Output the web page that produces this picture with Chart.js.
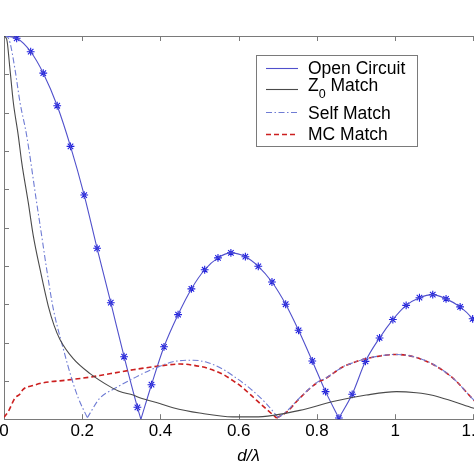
<!DOCTYPE html>
<html>
<head>
<meta charset="utf-8">
<script src="https://cdn.jsdelivr.net/npm/chart.js@4.4.1/dist/chart.umd.min.js"></script>
<style>
  html, body { margin: 0; padding: 0; background: #fff; overflow: hidden; width: 474px; height: 474px; }
  #wrap { position: absolute; left: -40px; top: 0; width: 600px; height: 474px; }
</style>
</head>
<body>
<div id="wrap"><canvas id="c" width="600" height="474"></canvas></div>
<script>
// ---------- data ----------
const xTicks = [0, 0.2, 0.4, 0.6, 0.8, 1.0, 1.2];
const xTickLabels = ['0', '0.2', '0.4', '0.6', '0.8', '1', '1.2'];
const yTicks = [0, 0.1, 0.2, 0.3, 0.4, 0.5, 0.6, 0.7, 0.8, 0.9, 1.0];

const seriesNames = ['Open Circuit', 'Z0 Match', 'Self Match', 'MC Match'];

// Open Circuit (sampled points, asterisk markers)
const openX = [0, 0.0324, 0.0682, 0.1004, 0.136, 0.170, 0.205, 0.238, 0.273, 0.307, 0.341, 0.350,
               0.377, 0.409, 0.445, 0.479, 0.513, 0.547, 0.580, 0.617, 0.650, 0.685, 0.720, 0.753, 0.788, 0.822, 0.856,
               0.890, 0.924, 0.960, 0.994, 1.028, 1.062, 1.096, 1.130, 1.166, 1.198, 1.232, 1.266];
const openY = [1.000, 0.994, 0.959, 0.903, 0.818, 0.712, 0.585, 0.446, 0.304, 0.163, 0.031, 0.000,
               0.090, 0.189, 0.273, 0.340, 0.390, 0.421, 0.434, 0.424, 0.399, 0.358, 0.300, 0.232, 0.152, 0.072, 0.003,
               0.065, 0.151, 0.212, 0.260, 0.297, 0.317, 0.325, 0.314, 0.293, 0.262, 0.212, 0.160];
const openCusps = [0.350, 0.856];
const openNoMarker = [0, 0.350];

// Z0 Match
const z0X = [0, 0.007, 0.0153, 0.0238, 0.0365, 0.0452, 0.0621, 0.0748, 0.092, 0.113, 0.128, 0.143, 0.177, 0.220, 0.271,
             0.296, 0.330, 0.347, 0.398, 0.432, 0.500, 0.585, 0.640, 0.688, 0.756, 0.841, 0.926, 1.003, 1.054, 1.098,
             1.149, 1.199, 1.250];
const z0Y = [1.000, 0.991, 0.913, 0.827, 0.740, 0.671, 0.565, 0.479, 0.392, 0.296, 0.245, 0.208, 0.158, 0.119, 0.085,
             0.072, 0.063, 0.056, 0.041, 0.030, 0.016, 0.006, 0.006, 0.010, 0.023, 0.046, 0.063, 0.072, 0.069, 0.062,
             0.046, 0.029, 0.014];

// Self Match
const selfX = [0, 0.009, 0.0153, 0.0281, 0.0409, 0.058, 0.0835, 0.0963, 0.109, 0.126, 0.1515, 0.173, 0.190, 0.213,
               0.245, 0.279, 0.330, 0.373, 0.398, 0.432, 0.484, 0.520, 0.560, 0.586, 0.628, 0.671, 0.701,
               0.724, 0.756, 0.800, 0.820, 0.867, 0.886, 0.926, 1.003, 1.047, 1.098, 1.149, 1.196, 1.230, 1.250];
const selfY = [1.000, 0.997, 0.983, 0.913, 0.827, 0.740, 0.565, 0.479, 0.392, 0.288, 0.184, 0.106, 0.055, 0.004,
               0.055, 0.078, 0.106, 0.128, 0.138, 0.150, 0.154, 0.148, 0.130, 0.113, 0.081, 0.040, 0.004,
               0.022, 0.056, 0.096, 0.106, 0.137, 0.145, 0.158, 0.169, 0.163, 0.143, 0.106, 0.055, 0.022, 0.004];
const selfCusps = [0.213, 0.701];

// MC Match
const mcX = [0, 0.011, 0.028, 0.041, 0.049, 0.075, 0.100, 0.160, 0.228, 0.245, 0.330, 0.398, 0.450, 0.500, 0.520,
             0.560, 0.586, 0.603, 0.628, 0.645, 0.671, 0.697,
             0.724, 0.756, 0.800, 0.820, 0.867, 0.886, 0.926, 1.003, 1.047, 1.098, 1.149, 1.196, 1.230, 1.250];
const mcY = [0.005, 0.020, 0.055, 0.066, 0.078, 0.088, 0.095, 0.102, 0.111, 0.114, 0.129, 0.139, 0.144, 0.138, 0.133,
             0.117, 0.100, 0.088, 0.066, 0.050, 0.026, 0.003,
             0.020, 0.055, 0.095, 0.105, 0.137, 0.145, 0.158, 0.169, 0.163, 0.142, 0.106, 0.055, 0.020, 0.003];
const mcCusps = [0.697];

// ---------- helpers ----------
function toPoints(xs, ys) { return xs.map((x, i) => ({ x: x, y: ys[i] })); }
function splitAtCusps(xs, ys, cusps) {
  const pts = toPoints(xs, ys);
  const parts = [];
  let cur = [];
  pts.forEach(p => {
    cur.push(p);
    if (cusps.indexOf(p.x) !== -1) { parts.push(cur); cur = [p]; }
  });
  if (cur.length > 1) parts.push(cur);
  return parts;
}

const COL_OPEN = '#5050cc';
const COL_MARK = '#2020e0';
const COL_Z0 = '#4a4a4a';
const COL_SELF = '#6f7cd4';
const COL_MC = '#cc1f1f';
const DASH_SELF = [6, 2.5, 1.5, 2.5];
const DASH_MC = [5, 3];

const datasets = [];
function lineSet(data, color, width, dash) {
  return { type: 'line', data: data, borderColor: color, borderWidth: width, borderDash: dash || [],
           pointRadius: 0, fill: false, cubicInterpolationMode: 'monotone' };
}
splitAtCusps(z0X, z0Y, []).forEach(d => datasets.push(lineSet(d, COL_Z0, 1.1)));
splitAtCusps(selfX, selfY, selfCusps).forEach(d => datasets.push(lineSet(d, COL_SELF, 1.1, DASH_SELF)));
splitAtCusps(mcX, mcY, mcCusps).forEach(d => datasets.push(lineSet(d, COL_MC, 1.6, DASH_MC)));
splitAtCusps(openX, openY, openCusps).forEach(d => datasets.push(lineSet(d, COL_OPEN, 1.1)));
datasets.push({
  type: 'scatter',
  data: toPoints(openX, openY).filter(p => openNoMarker.indexOf(p.x) === -1),
  pointStyle: 'star', pointRadius: 3.9, borderColor: COL_MARK, backgroundColor: COL_MARK,
  pointBorderWidth: 1.1, showLine: false
});

const FONT = "'Liberation Sans', Arial, sans-serif";
const AXIS_COL = '#7a7a7a';

const axesPlugin = {
  id: 'axesBox',
  beforeDatasetsDraw(chart) {
    const { ctx, chartArea: a, scales } = chart;
    ctx.save();
    ctx.strokeStyle = AXIS_COL;
    ctx.lineWidth = 1;
    ctx.beginPath();
    ctx.rect(Math.round(a.left) + 0.5, Math.round(a.top) + 0.5, Math.round(a.right - a.left), Math.round(a.bottom - a.top));
    const tl = 5;
    xTicks.forEach(v => {
      const x = Math.round(scales.x.getPixelForValue(v)) + 0.5;
      ctx.moveTo(x, a.bottom); ctx.lineTo(x, a.bottom - tl);
      ctx.moveTo(x, a.top); ctx.lineTo(x, a.top + tl);
    });
    yTicks.forEach(v => {
      const y = Math.round(scales.y.getPixelForValue(v)) + 0.5;
      ctx.moveTo(a.left, y); ctx.lineTo(a.left + tl, y);
      ctx.moveTo(a.right, y); ctx.lineTo(a.right - tl, y);
    });
    ctx.stroke();
    ctx.restore();
  }
};

const legendPlugin = {
  id: 'matLegend',
  afterDraw(chart) {
    const { ctx, chartArea: a } = chart;
    const L = a.left, T = a.top;
    ctx.save();
    ctx.fillStyle = '#fff';
    ctx.fillRect(L + 252, T + 19, 161, 91);
    ctx.strokeStyle = AXIS_COL;
    ctx.lineWidth = 1;
    ctx.strokeRect(Math.round(L + 252) + 0.5, Math.round(T + 19) + 0.5, 161, 91);
    const rows = [
      { ly: 32, ty: 38, color: COL_OPEN, w: 1.1, dash: [] },
      { ly: 53, ty: 55, color: COL_Z0, w: 1.1, dash: [] },
      { ly: 76, ty: 83, color: COL_SELF, w: 1.1, dash: DASH_SELF },
      { ly: 98, ty: 104, color: COL_MC, w: 1.6, dash: DASH_MC }
    ];
    rows.forEach((r, i) => {
      ctx.beginPath();
      ctx.strokeStyle = r.color; ctx.lineWidth = r.w; ctx.setLineDash(r.dash);
      ctx.moveTo(L + 262, T + r.ly + 0.5); ctx.lineTo(L + 294, T + r.ly + 0.5);
      ctx.stroke();
      ctx.setLineDash([]);
      ctx.fillStyle = '#000';
      ctx.textBaseline = 'alphabetic';
      ctx.textAlign = 'left';
      ctx.font = '17.5px ' + FONT;
      const name = seriesNames[i];
      if (name.startsWith('Z0')) {
        ctx.fillText('Z', L + 304, T + r.ty);
        const zw = ctx.measureText('Z').width;
        ctx.font = '12.5px ' + FONT;
        ctx.fillText('0', L + 304 + zw, T + r.ty + 7);
        const ow = ctx.measureText('0').width;
        ctx.font = '17.5px ' + FONT;
        ctx.fillText(name.slice(2), L + 304 + zw + ow, T + r.ty);
      } else {
        ctx.fillText(name, L + 304, T + r.ty);
      }
    });
    ctx.restore();
  }
};

new Chart(document.getElementById('c'), {
  data: { datasets: datasets },
  options: {
    responsive: false,
    animation: false,
    layout: { padding: { left: 44, top: 36, right: 67, bottom: 8 } },
    plugins: { legend: { display: false }, tooltip: { enabled: false } },
    scales: {
      x: {
        type: 'linear', min: 0, max: 1.25,
        afterBuildTicks: s => { s.ticks = xTicks.map(v => ({ value: v })); },
        ticks: { autoSkip: false, maxRotation: 0, padding: 2, color: '#000',
                 font: { family: FONT, size: 17 },
                 callback: (v) => { const i = xTicks.indexOf(v); return i >= 0 ? xTickLabels[i] : ''; } },
        grid: { display: false, drawTicks: false },
        border: { display: false },
        title: { display: true, text: 'd/\u03bb', color: '#000',
                 font: { family: FONT, size: 17, style: 'italic' }, padding: { top: 2, bottom: 0 } }
      },
      y: {
        type: 'linear', min: 0, max: 1, display: false
      }
    }
  },
  plugins: [axesPlugin, legendPlugin]
});
</script>
</body>
</html>
